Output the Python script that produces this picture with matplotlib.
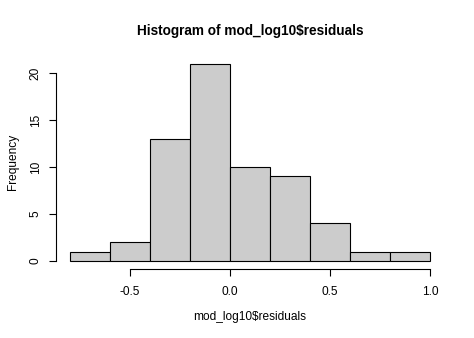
import numpy as np
import matplotlib
matplotlib.use("Agg")
import matplotlib.pyplot as plt

# histogram of residuals
bin_edges = [-0.8, -0.6, -0.4, -0.2, 0.0, 0.2, 0.4, 0.6, 0.8, 1.0]
counts = [1, 2, 13, 21, 10, 9, 4, 1, 1]
x_ticks = [-0.5, 0.0, 0.5, 1.0]
x_tick_labels = ["-0.5", "0.0", "0.5", "1.0"]
y_ticks = [0, 5, 10, 15, 20]

plt.rcParams['font.family'] = ['Liberation Sans', 'DejaVu Sans']

fig = plt.figure(figsize=(4.74, 3.38), dpi=100)
ax = fig.add_axes([0.1173, 0.2044, 0.8203, 0.6308])

edges = np.array(bin_edges)
ax.bar(edges[:-1], counts, width=np.diff(edges), align='edge',
       color='#cccccc', edgecolor='black', linewidth=0.8)

ax.set_xlim(-0.872, 1.072)
ax.set_ylim(-0.84, 21.84)

for side in ('top', 'right'):
    ax.spines[side].set_visible(False)
ax.spines['left'].set_bounds(0, 20)
ax.spines['bottom'].set_bounds(-0.5, 1.0)
for side in ('left', 'bottom'):
    ax.spines[side].set_linewidth(0.8)

ax.set_xticks(x_ticks)
ax.set_xticklabels(x_tick_labels)
ax.set_yticks(y_ticks)
ax.set_yticklabels([str(v) for v in y_ticks], rotation=90, va='center')
ax.tick_params(axis='both', length=5, width=0.8, labelsize=8.6)
ax.tick_params(axis='x', pad=7)
ax.tick_params(axis='y', pad=5)

ax.set_xlabel('mod_log10$residuals', fontsize=8.6, labelpad=10)
ax.set_ylabel('Frequency', fontsize=8.6, labelpad=8)
ax.set_title('Histogram of mod_log10$residuals', fontsize=9.8,
             fontweight='bold', pad=15)

fig.savefig('out.png', dpi=100, facecolor='white')
